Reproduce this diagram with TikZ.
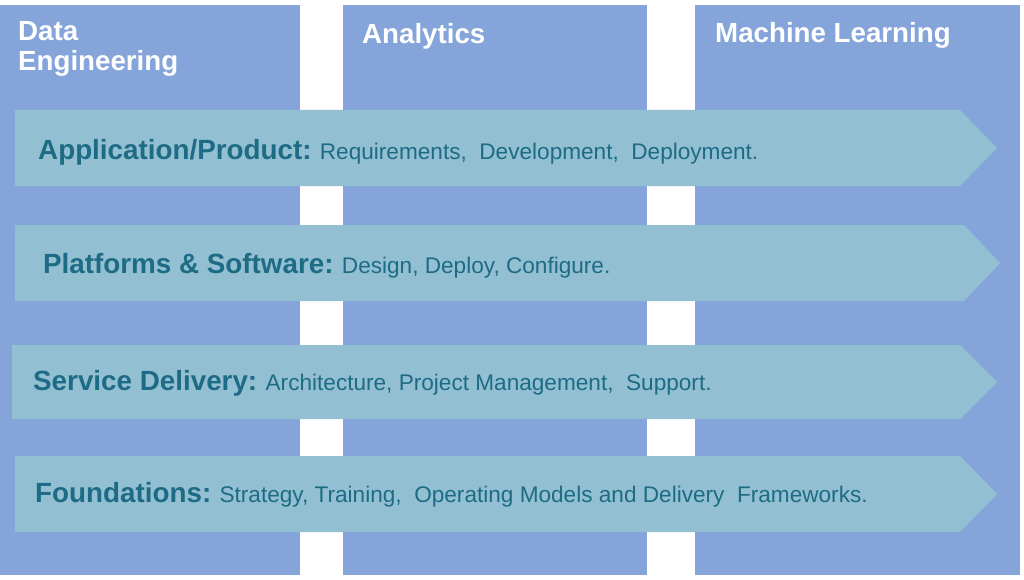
\documentclass[tikz,border=0pt]{standalone}
\usepackage{fontspec}
\setmainfont{Liberation Sans}
\definecolor{colblue}{HTML}{85A5DA}
\definecolor{arrowfill}{HTML}{92C0D2}
\definecolor{tealtext}{HTML}{1D6B84}
\newcommand{\boldlabel}[1]{{\fontsize{27.8}{31}\selectfont\bfseries #1}}
\begin{document}
\begin{tikzpicture}[x=1pt,y=-1pt,
  column/.style={fill=colblue},
  band/.style={fill=arrowfill},
  header/.style={anchor=base west,inner sep=0pt,text=white,font=\fontsize{27.7}{30}\selectfont\bfseries,align=left},
  bandtext/.style={anchor=base west,inner sep=0pt,text=tealtext,font=\fontsize{22.6}{26}\selectfont}
]
\useasboundingbox[fill=white] (0,0) rectangle (1024,580);
% columns
\fill[column] (0,5) rectangle (300,575);
\fill[column] (343,5) rectangle (647,575);
\fill[column] (695,5) rectangle (1020,575);
% column headers
\node[header] (de) at (18,71) {Data\\Engineering};
\node[header] (an) at (362,44) {Analytics};
\node[header] (ml) at (715,43) {Machine Learning};
% bands
\fill[band] (15,110) -- (960,110) -- (997,148) -- (960,186) -- (15,186) -- cycle;
\fill[band] (15,225) -- (964,225) -- (1000,263) -- (964,301) -- (15,301) -- cycle;
\fill[band] (12,345) -- (960,345) -- (997,382) -- (960,419) -- (12,419) -- cycle;
\fill[band] (15,456) -- (960,456) -- (997,494) -- (960,532) -- (15,532) -- cycle;
% band texts
\node[bandtext] (b1) at (38,160) {\boldlabel{Application/Product:} Requirements,\ \ Development,\ \ Deployment.};
\node[bandtext] (b2) at (43,273) {\boldlabel{Platforms\ \& Software:} Design,\ Deploy,\ Configure.};
\node[bandtext] (b3) at (33,390) {\boldlabel{Service Delivery:} Architecture, Project Management,\ \ Support.};
\node[bandtext] (b4) at (35,502) {\boldlabel{Foundations:} Strategy, Training,\ \ Operating Models and Delivery\ \ Frameworks.};
\end{tikzpicture}
\end{document}
